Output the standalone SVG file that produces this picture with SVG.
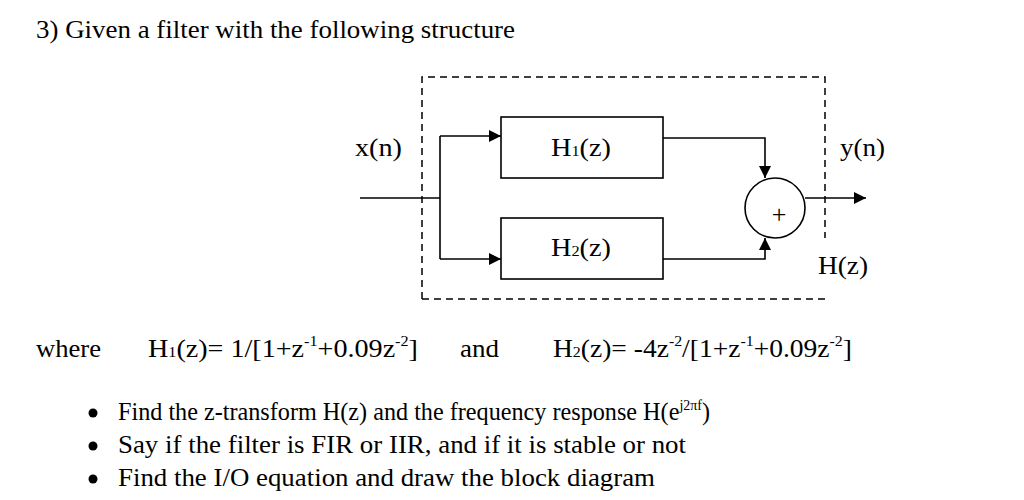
<svg xmlns="http://www.w3.org/2000/svg" width="1024" height="500" viewBox="0 0 1024 500">
<style>
text{font-family:"Liberation Serif","Times New Roman",serif;font-size:26px;fill:#000}
.l{stroke:#000;stroke-width:1.6;fill:none}
.b{stroke:#000;stroke-width:1.6;fill:#fff}
.d{stroke:#000;stroke-width:1.5;fill:none;stroke-dasharray:7,5}
.s{font-size:15px}
</style>
<defs><marker id="a" viewBox="0 0 10 10" refX="10" refY="5" markerWidth="13" markerHeight="12" markerUnits="userSpaceOnUse" orient="auto"><path d="M0,0L10,5L0,10z" fill="#000"/></marker></defs>
<text x="36" y="38" textLength="479" lengthAdjust="spacingAndGlyphs">3) Given a filter with the following structure</text>
<g id="boundary"><path class="d" d="M422,299V77H825V238M422,299H825"/></g>
<g id="connectors">
<path class="l" d="M360,198H440M440,136V259"/>
<path class="l" d="M440,136H501" marker-end="url(#a)"/>
<path class="l" d="M440,259H501" marker-end="url(#a)"/>
<path class="l" d="M663,138H765V178" marker-end="url(#a)"/>
<path class="l" d="M663,259H765V238" marker-end="url(#a)"/>
<path class="l" d="M805,198H866" marker-end="url(#a)"/>
</g>
<g id="h1"><rect class="b" x="501" y="117" width="162" height="61"/><text x="551" y="156" textLength="60" lengthAdjust="spacingAndGlyphs">H<tspan class="s">1</tspan>(z)</text></g>
<g id="h2"><rect class="b" x="501" y="218" width="162" height="61"/><text x="551" y="256" textLength="60" lengthAdjust="spacingAndGlyphs">H<tspan class="s">2</tspan>(z)</text></g>
<g id="sum"><circle class="b" cx="775" cy="208" r="30"/><text x="779" y="223" text-anchor="middle">+</text></g>
<text x="355" y="156" textLength="47" lengthAdjust="spacingAndGlyphs">x(n)</text>
<text x="840" y="156" textLength="45" lengthAdjust="spacingAndGlyphs">y(n)</text>
<text x="818" y="274" textLength="50" lengthAdjust="spacingAndGlyphs">H(z)</text>
<text x="36" y="357" textLength="65" lengthAdjust="spacingAndGlyphs">where</text>
<text x="148" y="357" textLength="270" lengthAdjust="spacingAndGlyphs">H<tspan class="s">1</tspan>(z)= 1/[1+z<tspan class="s" dy="-11">-1</tspan><tspan dy="11">+0.09z</tspan><tspan class="s" dy="-11">-2</tspan><tspan dy="11">]</tspan></text>
<text x="460" y="357" textLength="39" lengthAdjust="spacingAndGlyphs">and</text>
<text x="553" y="357" textLength="299" lengthAdjust="spacingAndGlyphs">H<tspan class="s">2</tspan>(z)= -4z<tspan class="s" dy="-11">-2</tspan><tspan dy="11">/[1+z</tspan><tspan class="s" dy="-11">-1</tspan><tspan dy="11">+0.09z</tspan><tspan class="s" dy="-11">-2</tspan><tspan dy="11">]</tspan></text>
<g fill="#000"><circle cx="93" cy="413" r="4.5"/><circle cx="93" cy="446" r="4.5"/><circle cx="93" cy="479" r="4.5"/></g>
<text x="118" y="420" textLength="592" lengthAdjust="spacingAndGlyphs">Find the z-transform H(z) and the frequency response H(e<tspan class="s" dy="-10">j2πf</tspan><tspan dy="10">)</tspan></text>
<text x="118" y="453" textLength="568" lengthAdjust="spacingAndGlyphs">Say if the filter is FIR or IIR, and if it is stable or not</text>
<text x="118" y="486" textLength="537" lengthAdjust="spacingAndGlyphs">Find the I/O equation and draw the block diagram</text>
</svg>
